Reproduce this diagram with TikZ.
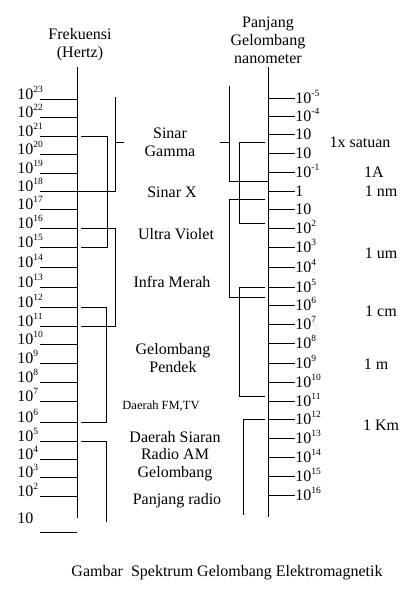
\documentclass[tikz,border=0pt]{standalone}
\usepackage{fontspec}
\setmainfont{Liberation Serif}
\usetikzlibrary{positioning}
\newcommand{\tenpow}[1]{10\raisebox{0.42em}{\fontsize{9.5}{10}\selectfont #1}}

\begin{document}
\begin{tikzpicture}[x=1pt, y=-1pt, line width=0.8pt,
  band/.style={font=\fontsize{16}{18}\selectfont, align=center, inner sep=0pt},
  numlbl/.style={font=\fontsize{16}{18}\selectfont, inner sep=0pt}]
\useasboundingbox (0,0) rectangle (411,595);

% judul kolom
\node[band] (freq) at (80,45) {Frekuensi\\(Hertz)};
\node[band] (wave) at (268,40) {Panjang\\Gelombang\\nanometer};

% sumbu
\draw (77,67) -- (77,518);
\draw (268,67) -- (268,517);

% skala frekuensi
\foreach \e/\y in {23/99, 22/117, 21/136, 20/154, 19/173, 18/191, 17/209, 16/228,
                   15/247, 14/267, 13/287, 12/307, 11/326, 10/344, 9/363, 8/382,
                   7/401, 6/422, 5/441, 4/459, 3/477, 2/496} {
  \draw (40,\y) -- (77,\y);
  \node[numlbl, anchor=base west] (f\e) at (17,\y) {\tenpow{\e}};
}
\node[numlbl, anchor=base west] (f1) at (17,523) {10};
\draw (40,532) -- (77,532);

% skala panjang gelombang
\foreach \t/\y [count=\i] in {{\tenpow{-5}}/98, {\tenpow{-4}}/116, 10/134, 10/153,
                   {\tenpow{-1}}/172, 1/191, 10/209, {\tenpow{2}}/228, {\tenpow{3}}/247,
                   {\tenpow{4}}/267, {\tenpow{5}}/287, {\tenpow{6}}/305, {\tenpow{7}}/324,
                   {\tenpow{8}}/343, {\tenpow{9}}/363, {\tenpow{10}}/382, {\tenpow{11}}/401,
                   {\tenpow{12}}/419, {\tenpow{13}}/438, {\tenpow{14}}/457,
                   {\tenpow{15}}/476, {\tenpow{16}}/495} {
  \draw (268,\y) -- (295,\y);
  \node[numlbl, anchor=base west] (w\i) at (295,\y+5.5) {\t};
}

% kurung kiri
\draw (115,97) -- (115,191) -- (77,191);
\draw (115,142) -- (124,142);
\draw (81,136) -- (107,136) -- (107,247) -- (81,247);
\draw (81,228) -- (115,228) -- (115,326) -- (81,326);
\draw (81,307) -- (106,307) -- (106,422) -- (81,422);
\draw (81,441) -- (106,441) -- (106,522);

% kurung kanan
\draw (229,86) -- (229,181) -- (268,181);
\draw (220,142) -- (229,142);
\draw (265,142) -- (239,142) -- (239,223) -- (265,223);
\draw (265,199) -- (229,199) -- (229,297) -- (265,297);
\draw (265,287) -- (239,287) -- (239,396) -- (265,396);
\draw (265,419) -- (243,419) -- (243,515);

% nama daerah
\node[band] (gamma) at (170,142) {Sinar\\Gamma};
\node[band] (xray) at (172,192) {Sinar X};
\node[band] (uv) at (176,234) {Ultra Violet};
\node[band] (ir) at (172,282) {Infra Merah};
\node[band] (shortw) at (173,358) {Gelombang\\Pendek};
\node[band, font=\fontsize{12.5}{14}\selectfont] (fmtv) at (161,406) {Daerah FM,TV};
\node[band, font=\fontsize{16}{17.5}\selectfont] (amradio) at (175,456) {Daerah Siaran\\Radio AM\\Gelombang};
\node[band] (longw) at (177,501) {Panjang radio};

% satuan
\node[band] (u1) at (360,142) {1x satuan};
\node[band] (u2) at (374,172) {1A};
\node[band] (u3) at (381,191) {1 nm};
\node[band] (u4) at (381,253) {1 um};
\node[band] (u5) at (381,311) {1 cm};
\node[band] (u6) at (376,364) {1 m};
\node[band] (u7) at (381,425) {1 Km};

% keterangan
\node[band] (caption) at (227,573) {Gambar\ \ Spektrum Gelombang Elektromagnetik};
\end{tikzpicture}
\end{document}
